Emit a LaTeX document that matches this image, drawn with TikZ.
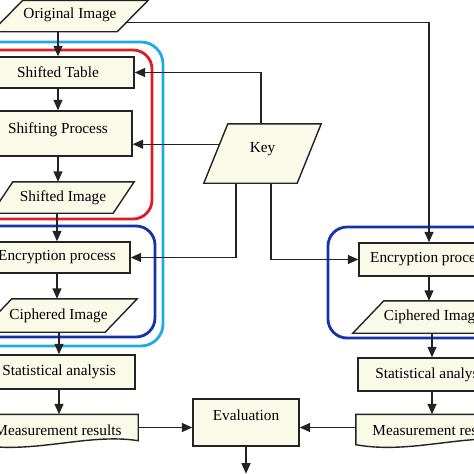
\documentclass[tikz,border=0pt]{standalone}
\usepackage{fontspec}
\setmainfont{Liberation Serif}
\usetikzlibrary{arrows.meta}
\definecolor{boxfill}{RGB}{250,250,232}
\definecolor{redline}{RGB}{222,28,40}
\definecolor{cyanline}{RGB}{30,170,228}
\definecolor{blueline}{RGB}{22,50,170}
\definecolor{ink}{RGB}{35,35,35}
\pgfdeclarelayer{bg}
\pgfsetlayers{bg,main}
% draw a parallelogram filling the box of node #1, top shifted right by #2
\newcommand\drawslanted[2]{%
  \begin{pgfonlayer}{bg}
  \draw[outline] ([xshift=#2]#1.north west) -- (#1.north east) -- ([xshift=-#2]#1.south east) -- (#1.south west) -- cycle;
  \end{pgfonlayer}}
\begin{document}
\begin{tikzpicture}[x=1pt,y=-1pt,
  outline/.style={draw=ink, line width=1.4pt, fill=boxfill},
  txt/.style={font=\fontsize{15.3}{18}\selectfont, inner sep=0pt},
  procbox/.style={txt, outline, rectangle},
  iobox/.style={txt, rectangle},
  docbox/.style={txt, rectangle, text height=18pt, text depth=2pt, minimum width=160pt, minimum height=26pt},
  arr/.style={draw=ink, line width=1.4pt, -{Triangle[length=10.5pt,width=9pt]}},
  group/.style={line width=2.8pt, rounded corners=19pt}
]
\useasboundingbox (0,0) rectangle (474,474);
\clip (0,0) rectangle (474,474);

% group outlines
\draw[group, draw=cyanline, rounded corners=22pt] (-40,42) rectangle (163,346);
\draw[group, draw=redline] (-30,50) rectangle (152,219);
\draw[group, draw=blueline] (-30,226) rectangle (155,337);
\draw[group, draw=blueline] (328,227) rectangle (520,338);

% left column
\node[iobox, minimum width=156pt, minimum height=31pt, text height=10pt, text depth=5pt] (orig) at (70,16) {Original Image};
\node[procbox, minimum width=152pt, minimum height=31pt] (stable) at (58,72.5) {Shifted Table};
\node[procbox, minimum width=148pt, minimum height=45pt, text height=10pt, text depth=11pt] (sproc) at (58,133.5) {Shifting Process};
\node[iobox, minimum width=142pt, minimum height=31pt] (simg) at (63,197.5) {Shifted Image};
\node[procbox, minimum width=146pt, minimum height=31pt] (encL) at (57,257.5) {Encryption process};
\node[iobox, minimum width=157pt, minimum height=33pt] (cipL) at (58.5,315.5) {Ciphered Image};
\node[procbox, minimum width=152pt, minimum height=34pt] (statL) at (59,372) {Statistical analysis};
\node[docbox] (measL) at (58,427.5) {Measurement results};

% key
\node[iobox, minimum width=117pt, minimum height=59pt, text height=10pt, text depth=13pt] (key) at (262.5,153.5) {Key};

% evaluation
\node[procbox, minimum width=106pt, minimum height=47pt, text height=10pt, text depth=15pt] (eval) at (246,422.5) {Evaluation};

% right column
\node[procbox, minimum width=140pt, minimum height=33pt] (encR) at (429,259.5) {Encryption process};
\node[iobox, minimum width=160pt, minimum height=32pt] (cipR) at (433,317) {Ciphered Image};
\node[procbox, minimum width=148pt, minimum height=33pt] (statR) at (432,374.5) {Statistical analysis};
\node[docbox] (measR) at (436,427.5) {Measurement results};

% slanted (input/output) outlines
\drawslanted{orig}{31pt}
\drawslanted{simg}{21pt}
\drawslanted{cipL}{32pt}
\drawslanted{cipR}{31pt}
\drawslanted{key}{24pt}

% document shapes behind their text
\begin{pgfonlayer}{bg}
\foreach \n in {measL,measR}
  \draw[outline] (\n.north west) -- (\n.north east) -- (\n.south east)
     .. controls +(-50,-8) and +(55,10) .. ([yshift=-4pt]\n.south west) -- cycle;
\end{pgfonlayer}

% connectors
\coordinate (oc) at ([shift={(-23,22)}]orig.north east);
\coordinate (kt) at ([xshift=57pt]key.north west);
\coordinate (kw) at ([shift={(15.9,-39)}]key.south west);
\coordinate (kb1) at ([xshift=32pt]key.south west);
\coordinate (kb2) at ([xshift=67pt]key.south west);
\coordinate (evend) at ([yshift=-27pt]eval.south);

\draw[arr] (stable.north |- orig.south) -- (stable.north);
\draw[arr] (stable.south) -- (stable.south |- sproc.north);
\draw[arr] (sproc.south) -- (sproc.south |- simg.north);
\draw[arr] (encL.north |- simg.south) -- (encL.north);
\draw[arr] (encL.south) -- (encL.south |- cipL.north);
\draw[arr] (statL.north |- cipL.south) -- (statL.north);
\draw[arr] (statL.south) -- (statL.south |- measL.north);
\draw[arr] (measL.east) -- (measL.east -| eval.west);

\draw[arr] (oc) -| (encR.north);
\draw[arr] (encR.south) -- (encR.south |- cipR.north);
\draw[arr] (statR.north |- cipR.south) -- (statR.north);
\draw[arr] (statR.south) -- (statR.south |- measR.north);
\draw[arr] (measR.west) -- (measR.west -| eval.east);
\draw[arr] (eval.south) -- (evend);

\draw[arr] (kt) |- (stable.east);
\draw[arr] (kw) -- (kw -| sproc.east);
\draw[arr] (kb1) |- (encL.east);
\draw[arr] (kb2) |- (encR.west);
\end{tikzpicture}
\end{document}
